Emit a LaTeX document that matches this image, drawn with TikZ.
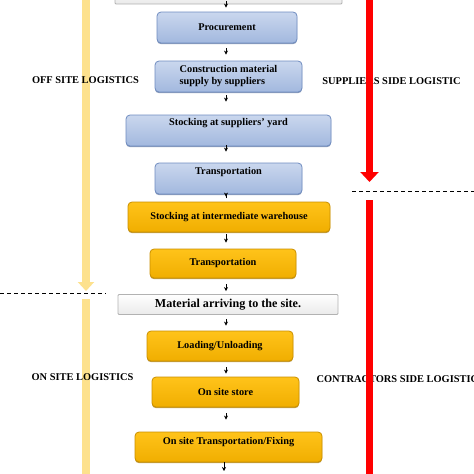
\documentclass[tikz,border=0pt]{standalone}
\usepackage{fontspec}
\setmainfont{Liberation Serif}
\usetikzlibrary{arrows.meta,shadows}
\definecolor{bluetop}{HTML}{CAD7EE}
\definecolor{bluebot}{HTML}{A2B8DE}
\definecolor{blueedge}{HTML}{6F8CC0}
\definecolor{orangetop}{HTML}{FFC31A}
\definecolor{orangebot}{HTML}{F0AE00}
\definecolor{orangeedge}{HTML}{C98F00}
\definecolor{paleyellow}{HTML}{FDE18D}
\definecolor{barred}{HTML}{FF0000}

\begin{document}
\begin{tikzpicture}[x=1pt,y=-1pt,
    box/.style={rounded corners=4pt, line width=0.8pt, minimum height=30pt,
        font=\fontsize{10.3}{12}\selectfont\bfseries, align=center, inner sep=2pt},
    bluebox/.style={box, top color=bluetop, bottom color=bluebot, draw=blueedge,
        drop shadow={shadow xshift=0pt, shadow yshift=-1.2pt, fill=blueedge!80!black, opacity=0.7}},
    orangebox/.style={box, top color=orangetop, bottom color=orangebot, draw=orangeedge,
        drop shadow={shadow xshift=0pt, shadow yshift=-1.2pt, fill=orangeedge!80!black, opacity=0.7}},
    greybox/.style={box, rounded corners=1pt, top color=white, bottom color=black!8,
        draw=black!30, font=\fontsize{12.1}{14}\selectfont\bfseries},
    side/.style={font=\fontsize{10.4}{12}\selectfont\bfseries},
    flow/.style={line width=0.8pt, -{Stealth[length=4pt,width=4pt]}},
    cut/.style={dashed, line width=0.8pt, dash pattern=on 4pt off 3pt}]
\useasboundingbox (0,0) rectangle (474,474);
\clip (0,0) rectangle (474,474);

\coordinate (offtop) at (86,-5);
\coordinate (offend) at (86,291);
\coordinate (ontop) at (86,299);
\coordinate (onend) at (86,480);
\draw[paleyellow, line width=8pt, -{Triangle[width=16pt,length=9pt]}] (offtop) -- (offend);
\draw[paleyellow, line width=8pt] (ontop) -- (onend);

\node[side] (offsite) at (85.5,80) {OFF SITE LOGISTICS};
\node[side] (onsite) at (82.5,377) {ON SITE LOGISTICS};
\node[side] (supside) at (391.5,81) {SUPPLIERS SIDE LOGISTIC};
\node[side, anchor=west] (conside) at (313,379) {CONTRACTORS SIDE LOGISTIC};

\coordinate (suptop) at (369.5,-5);
\coordinate (supend) at (369.5,182);
\coordinate (contop) at (369.5,200);
\coordinate (conend) at (369.5,480);
\draw[barred, line width=7pt, -{Triangle[width=18pt,length=10pt]}] (suptop) -- (supend);
\draw[barred, line width=7pt] (contop) -- (conend);

\coordinate (cutaL) at (0,293);
\coordinate (cutaR) at (106,293);
\coordinate (cutbL) at (352,191);
\coordinate (cutbR) at (474,191);
\draw[cut] (cutaL) -- (cutaR);
\draw[cut] (cutbL) -- (cutbR);

\node[greybox, minimum width=227pt, minimum height=24pt] (start) at (228.5,-8) {};
\node[bluebox, minimum width=140pt, minimum height=31pt] (procure) at (227,27.5) {Procurement};
\node[bluebox, minimum width=147pt, minimum height=31pt, align=left] (supply) at (228.5,76.5)
    {Construction material\\supply by suppliers};
\node[bluebox, minimum width=205pt, minimum height=31pt, text depth=17pt] (yard) at (228.5,130.5)
    {Stocking at suppliers' yard};
\node[bluebox, minimum width=147pt, minimum height=31pt, text depth=15pt] (transA) at (228.5,178.5)
    {Transportation};
\node[orangebox, minimum width=202pt] (warehouse) at (229,217)
    {\raisebox{-2pt}{Stocking at intermediate warehouse}};
\node[orangebox, minimum width=146pt, minimum height=29pt] (transB) at (223,263.5) {Transportation};
\node[greybox, minimum width=220pt, minimum height=20pt] (arrive) at (228,304.5)
    {Material arriving to the site.};
\node[orangebox, minimum width=146pt] (loading) at (220,346) {Loading/Unloading};
\node[orangebox, minimum width=147pt] (store) at (225.5,392) {On site store};
\node[orangebox, minimum width=187pt, text depth=12pt] (fixing) at (228.5,447)
    {On site Transportation/Fixing};

\coordinate (col) at (226,0);
\coordinate (finish) at (224,471);
\foreach \a/\b/\s/\e in {start/procure/-3/4, procure/supply/5/6, supply/yard/3/13,
    yard/transA/-1/11, transA/warehouse/-4/5, warehouse/transB/2/6, transB/arrive/6/3,
    arrive/loading/4/5, loading/store/6/3, store/fixing/6/12}
    \draw[flow, shorten <=\s pt, shorten >=\e pt] (\a.south -| col) -- (\b.north -| col);
\draw[flow] (fixing.south -| finish) -- (finish);
\end{tikzpicture}
\end{document}
